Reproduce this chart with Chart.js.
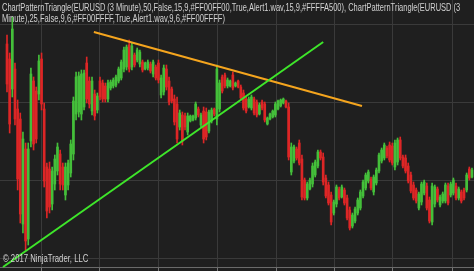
<!DOCTYPE html>
<html><head><meta charset="utf-8">
<script src="https://cdn.jsdelivr.net/npm/chart.js@4"></script>
<style>
html,body{margin:0;padding:0;background:#1f1f1f;overflow:hidden}
#wrap{position:relative;width:474px;height:271px}
canvas{display:block}
.lbl{position:absolute;left:2px;font-family:"Liberation Sans",Arial,sans-serif;font-size:10px;line-height:11px;color:#d2d2d2;white-space:nowrap;transform-origin:0 0}
</style></head><body>
<div id="wrap"><canvas id="c" width="474" height="271"></canvas>
<div class="lbl" id="t1" data-w="458" style="top:2px">ChartPatternTriangle(EURUSD (3 Minute),50,False,15,9,#FF00FF00,True,Alert1.wav,15,9,#FFFFA500), ChartPatternTriangle(EURUSD (3</div>
<div class="lbl" id="t2" data-w="223" style="top:13px">Minute),25,False,9,6,#FF00FFFF,True,Alert1.wav,9,6,#FF00FFFF)</div>
<div class="lbl" id="t3" data-w="85" style="top:253px;left:3px">© 2017 NinjaTrader, LLC</div>
</div>
<script>
const high = [1.05224,1.05206,1.05242,1.05196,1.05159,1.05146,1.05127,1.05116,1.05116,1.05191,
1.05182,1.05172,1.05204,1.05206,1.05156,1.05096,1.05097,1.05092,1.05104,1.05116,
1.05109,1.05096,1.05096,1.05099,1.05119,1.05162,1.05187,1.05187,1.05189,1.05189,
1.05202,1.05182,1.05182,1.05169,1.05166,1.05182,1.05179,1.05176,1.05179,1.05179,
1.05181,1.05184,1.05192,1.05199,1.05212,1.05214,1.05219,1.05216,1.05206,1.05211,
1.05209,1.05199,1.05197,1.05199,1.05197,1.05199,1.05194,1.05199,1.05184,1.05194,
1.05194,1.05182,1.05172,1.05164,1.05162,1.05149,1.05147,1.05146,1.05146,1.05144,
1.05144,1.05157,1.05152,1.05146,1.05152,1.05151,1.05149,1.05151,1.05151,1.05194,
1.05179,1.05184,1.05186,1.05181,1.05179,1.05187,1.05177,1.05179,1.05174,1.05169,
1.05162,1.05162,1.05164,1.05162,1.05159,1.05156,1.05159,1.05157,1.05142,1.05146,
1.05149,1.05157,1.05159,1.05160,1.05161,1.05159,1.05156,1.05116,1.05114,1.05112,
1.05119,1.05104,1.05081,1.05077,1.05081,1.05096,1.05099,1.05109,1.05109,1.05106,
1.05084,1.05077,1.05067,1.05059,1.05074,1.05072,1.05074,1.05071,1.05064,1.05052,
1.05046,1.05052,1.05061,1.05069,1.05079,1.05086,1.05089,1.05082,1.05084,1.05091,
1.05106,1.05111,1.05116,1.05113,1.05117,1.05116,1.05119,1.05121,1.05122,1.05104,
1.05104,1.05096,1.05087,1.05077,1.05071,1.05067,1.05077,1.05079,1.05076,1.05062,
1.05076,1.05074,1.05072,1.05064,1.05067,1.05076,1.05076,1.05077,1.05081,1.05076,
1.05072,1.05069,1.05071,1.05086,1.05092,1.05091];
const low = [1.05167,1.05126,1.05162,1.05134,1.05069,1.05036,1.05026,1.05009,1.05014,1.05112,
1.05109,1.05116,1.05159,1.05149,1.05072,1.05041,1.05046,1.05049,1.05069,1.05084,
1.05069,1.05069,1.05059,1.05069,1.05082,1.05099,1.05139,1.05142,1.05139,1.05149,
1.05156,1.05151,1.05144,1.05139,1.05146,1.05159,1.05157,1.05157,1.05157,1.05169,
1.05171,1.05172,1.05176,1.05179,1.05187,1.05189,1.05187,1.05189,1.05192,1.05197,
1.05192,1.05187,1.05189,1.05189,1.05186,1.05182,1.05179,1.05176,1.05161,1.05164,
1.05169,1.05154,1.05156,1.05134,1.05116,1.05129,1.05114,1.05129,1.05124,1.05137,
1.05138,1.05139,1.05142,1.05132,1.05116,1.05119,1.05126,1.05136,1.05143,1.05134,
1.05147,1.05166,1.05171,1.05171,1.05172,1.05169,1.05172,1.05171,1.05159,1.05149,
1.05146,1.05151,1.05149,1.05144,1.05142,1.05144,1.05149,1.05137,1.05134,1.05139,
1.05141,1.05142,1.05149,1.05152,1.05155,1.05151,1.05099,1.05084,1.05096,1.05099,
1.05094,1.05059,1.05059,1.05059,1.05069,1.05072,1.05082,1.05091,1.05099,1.05074,
1.05061,1.05054,1.05034,1.05044,1.05052,1.05059,1.05061,1.05054,1.05039,1.05029,
1.05031,1.05036,1.05044,1.05049,1.05061,1.05069,1.05076,1.05069,1.05064,1.05074,
1.05086,1.05096,1.05099,1.05101,1.05097,1.05094,1.05089,1.05094,1.05099,1.05091,
1.05086,1.05076,1.05066,1.05059,1.05056,1.05049,1.05054,1.05064,1.05049,1.05036,
1.05034,1.05052,1.05057,1.05052,1.05056,1.05056,1.05054,1.05062,1.05064,1.05059,
1.05059,1.05056,1.05059,1.05067,1.05079,1.05081];
const open = [1.05215,1.05200,1.05170,1.05190,1.05150,1.05140,1.05035,1.05110,1.05020,1.05118,
1.05178,1.05168,1.05165,1.05200,1.05150,1.05092,1.05090,1.05055,1.05075,1.05088,
1.05105,1.05092,1.05064,1.05074,1.05086,1.05105,1.05145,1.05147,1.05145,1.05152,
1.05196,1.05178,1.05148,1.05165,1.05149,1.05178,1.05176,1.05173,1.05160,1.05171,
1.05173,1.05174,1.05178,1.05181,1.05190,1.05192,1.05214,1.05192,1.05204,1.05199,
1.05195,1.05197,1.05190,1.05191,1.05195,1.05185,1.05192,1.05196,1.05164,1.05167,
1.05190,1.05178,1.05170,1.05160,1.05155,1.05132,1.05144,1.05143,1.05127,1.05138,
1.05139,1.05141,1.05150,1.05134,1.05148,1.05147,1.05128,1.05138,1.05150,1.05140,
1.05150,1.05182,1.05184,1.05173,1.05173,1.05184,1.05173,1.05178,1.05172,1.05166,
1.05160,1.05152,1.05151,1.05160,1.05157,1.05145,1.05157,1.05155,1.05135,1.05140,
1.05142,1.05144,1.05150,1.05153,1.05156,1.05158,1.05152,1.05087,1.05098,1.05110,
1.05116,1.05100,1.05079,1.05061,1.05070,1.05075,1.05084,1.05093,1.05107,1.05102,
1.05081,1.05074,1.05064,1.05046,1.05055,1.05070,1.05062,1.05069,1.05061,1.05049,
1.05033,1.05038,1.05046,1.05051,1.05063,1.05071,1.05078,1.05080,1.05067,1.05076,
1.05088,1.05098,1.05101,1.05111,1.05114,1.05113,1.05092,1.05097,1.05119,1.05102,
1.05101,1.05093,1.05084,1.05074,1.05069,1.05051,1.05057,1.05066,1.05073,1.05059,
1.05037,1.05055,1.05070,1.05054,1.05058,1.05058,1.05073,1.05064,1.05066,1.05073,
1.05061,1.05067,1.05069,1.05069,1.05090,1.05082];
const close = [1.05175,1.05135,1.05230,1.05140,1.05080,1.05045,1.05120,1.05018,1.05110,1.05185,
1.05115,1.05120,1.05198,1.05155,1.05078,1.05048,1.05052,1.05088,1.05100,1.05112,
1.05075,1.05074,1.05092,1.05096,1.05115,1.05158,1.05182,1.05183,1.05185,1.05186,
1.05160,1.05155,1.05178,1.05143,1.05163,1.05162,1.05160,1.05160,1.05176,1.05177,
1.05179,1.05182,1.05190,1.05197,1.05209,1.05212,1.05190,1.05213,1.05194,1.05209,
1.05207,1.05189,1.05196,1.05197,1.05188,1.05197,1.05181,1.05179,1.05181,1.05191,
1.05172,1.05157,1.05158,1.05137,1.05120,1.05146,1.05118,1.05132,1.05143,1.05143,
1.05143,1.05155,1.05144,1.05144,1.05120,1.05122,1.05147,1.05149,1.05145,1.05190,
1.05176,1.05168,1.05173,1.05179,1.05178,1.05171,1.05176,1.05172,1.05161,1.05151,
1.05148,1.05160,1.05162,1.05146,1.05144,1.05154,1.05151,1.05139,1.05141,1.05145,
1.05148,1.05155,1.05158,1.05159,1.05160,1.05152,1.05102,1.05112,1.05112,1.05101,
1.05096,1.05062,1.05061,1.05075,1.05079,1.05093,1.05097,1.05107,1.05101,1.05077,
1.05063,1.05056,1.05037,1.05057,1.05072,1.05061,1.05072,1.05056,1.05041,1.05031,
1.05044,1.05050,1.05059,1.05067,1.05077,1.05084,1.05087,1.05071,1.05082,1.05089,
1.05104,1.05109,1.05114,1.05103,1.05099,1.05096,1.05116,1.05119,1.05101,1.05093,
1.05088,1.05078,1.05068,1.05061,1.05058,1.05065,1.05075,1.05077,1.05051,1.05038,
1.05073,1.05072,1.05059,1.05062,1.05065,1.05074,1.05056,1.05075,1.05079,1.05061,
1.05070,1.05058,1.05061,1.05084,1.05081,1.05089];

// triangle pattern lines (bar index, price)
const supportLine = [{x:-1.5, y:1.04992},{x:119, y:1.05217}];
const resistanceLine = [{x:32.7, y:1.05227},{x:133.6, y:1.05153}];

// grid positions
const timeGrid = [12.8, 35.0, 57.2, 79.4, 101.3, 123.4, 145.2, 167.7];
const priceGrid = [1.05000, 1.05078, 1.05156, 1.05234];

const UP = '#44bf3a', DOWN = '#dd2626';
const colors = open.map((o,i)=> close[i] >= o ? UP : DOWN);
const wicks = high.map((h,i)=>({x:i, y:[low[i], h]}));
const bodies = open.map((o,i)=>({x:i, y:[Math.min(o,close[i]), Math.max(o,close[i]) + (o===close[i]?0.000005:0)]}));

const bg = {id:'bg', beforeDraw(c){const x=c.ctx; x.save(); x.fillStyle='#1f1f1f'; x.fillRect(0,0,c.width,c.height); x.restore();}};

new Chart(document.getElementById('c'), {
  type:'bar',
  data:{datasets:[
    {type:'line', data:supportLine, borderColor:'#3ee62a', borderWidth:2, pointRadius:0, order:0, clip:false},
    {type:'line', data:resistanceLine, borderColor:'#f5a51e', borderWidth:2, pointRadius:0, order:0, clip:false},
    {data:bodies, backgroundColor:colors, barThickness:2, grouped:false, order:1},
    {data:wicks, backgroundColor:colors, barThickness:1, grouped:false, order:2}
  ]},
  options:{
    responsive:false, animation:false, devicePixelRatio:1,
    layout:{padding:0},
    plugins:{legend:{display:false}, tooltip:{enabled:false}, title:{display:false}},
    scales:{
      x:{type:'linear', min:-2.634, max:175.76, offset:false,
         afterBuildTicks(s){ s.ticks = timeGrid.map(v=>({value:v})); },
         ticks:{display:false},
         grid:{offset:false, color:'#3a3a3a', lineWidth:1, drawTicks:true, tickLength:4, tickColor:'#7a7a7a'},
         border:{display:true, color:'#6a6a6a'}},
      y:{type:'linear', min:1.04992, max:1.05259,
         afterBuildTicks(s){ s.ticks = priceGrid.map(v=>({value:v})); },
         ticks:{display:false},
         grid:{color:'#3a3a3a', lineWidth:1, drawTicks:false},
         border:{display:false}}
    }
  },
  plugins:[bg]
});

function fit(){
  document.querySelectorAll('.lbl').forEach(el=>{
    const w = el.offsetWidth;
    const t = parseFloat(el.dataset.w);
    el.style.transform = 'scaleX(' + (t/w) + ')';
  });
}
fit();
if (document.fonts && document.fonts.ready) document.fonts.ready.then(fit);
</script>
</body></html>
